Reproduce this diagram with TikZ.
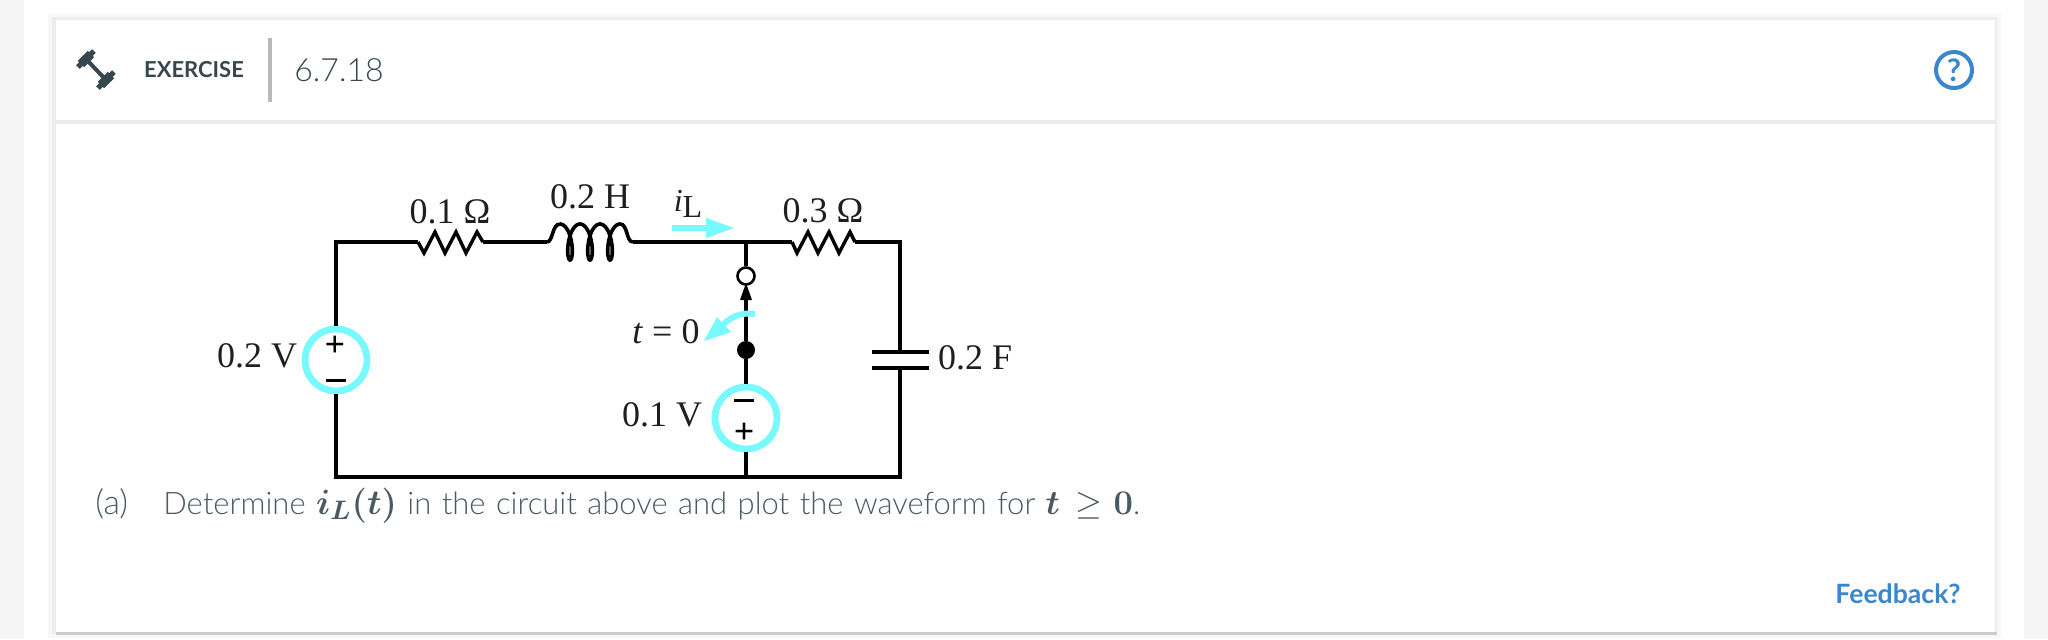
\documentclass[tikz,border=0pt]{standalone}
\usepackage{fontspec}
\usepackage{amsmath}
\setmainfont{Liberation Serif}
\newfontfamily\uilight{Lato Light}
\newfontfamily\uibold{Lato Bold}
\usetikzlibrary{arrows.meta}
\definecolor{uidark}{HTML}{37474F}
\definecolor{uibody}{HTML}{4A5A63}
\definecolor{uiblue}{HTML}{3A87CD}
\definecolor{srccyan}{HTML}{78F9FD}
\tikzset{
  wire/.style={line width=1.7pt,black,line join=miter},
  source/.style={circle,draw=srccyan,line width=3.4pt,fill=white,minimum size=31pt,inner sep=0pt},
  lab/.style={inner sep=0pt,font=\fontsize{18}{20}\selectfont,text=black!88},
  sign/.style={inner sep=0pt,font=\bfseries\fontsize{18}{20}\selectfont},
  terminal/.style={circle,draw=black,line width=1.3pt,fill=white,minimum size=8.5pt,inner sep=0pt},
  closed/.style={circle,fill=black,minimum size=9pt,inner sep=0pt},
  cyanarrow/.style={srccyan,line width=3pt},
  body/.style={inner sep=0pt,anchor=base west,text=uibody,font=\uilight\fontsize{15.5}{18}\selectfont},
}
\begin{document}
\begin{tikzpicture}[x=0.5pt,y=-0.5pt]
\useasboundingbox (0,0) rectangle (2048,639);
\fill[white] (0,0) rectangle (2048,639);
\fill[black!4] (0,0) rectangle (24,639);
\fill[black!4] (2024,0) rectangle (2048,639);
% card
\fill[black!3] (48,14) rectangle (2001,638);
\fill[black!7] (52,17) rectangle (1997,634);
\fill[black!20] (56,632) rectangle (1997,635);
\fill[white] (56,20) rectangle (1995,632);
\fill[black!8] (56,120) rectangle (1995,124);
% header
\begin{scope}[uidark]
\draw[line width=2pt] (86,59) -- (106,80);
\draw[line width=4.5pt] (81,64) -- (91,54);
\draw[line width=4.5pt] (101,85) -- (111,75);
\draw[line width=2.5pt] (78,67) -- (94,51);
\draw[line width=2.5pt] (98,88) -- (114,72);
\end{scope}
\node[inner sep=0pt,text=uidark,font=\uibold\fontsize{11}{14}\selectfont] (ex) at (194,70) {EXERCISE};
\fill[black!27] (268,38) rectangle (272,102);
\node[inner sep=0pt,text=uidark,font=\uilight\fontsize{16}{20}\selectfont] (num) at (339,70) {6.7.18};
\node[circle,draw=uiblue,line width=2pt,minimum size=18pt,inner sep=0pt,text=uiblue,font=\uibold\fontsize{15.5}{16}\selectfont] (help) at (1954,70) {?};
\node[inner sep=0pt,text=uiblue,font=\uibold\fontsize{13.3}{14}\selectfont] (fb) at (1898,594) {Feedback?};
% circuit
\coordinate (tl) at (336,242);
\coordinate (bl) at (336,477);
\coordinate (tr) at (900,242);
\coordinate (br) at (900,477);
\coordinate (jt) at (746,242);
\coordinate (jb) at (746,477);
\coordinate (r1a) at (418,242);
\coordinate (r1b) at (483,242);
\coordinate (la) at (547,242);
\coordinate (lb) at (633,242);
\coordinate (r2a) at (792,242);
\coordinate (r2b) at (855,242);
\coordinate (c1) at (900,352);
\coordinate (c2) at (900,368);
\node[source] (vs1) at (336,360) {};
\node[source] (vs2) at (746,418) {};
\node[terminal] (sw1) at (746,276) {};
\node[closed] (sw2) at (746,350) {};
\draw[wire] (vs1) -- (tl) -- (r1a);
\draw[wire] (vs1) -- (bl) -- (br) -- (c2);
\draw[wire] (c1) -- (tr) -- (r2b);
\draw[wire] (r1a) -- (424,253) -- (435,232) -- (445,253) -- (456,232) -- (466,253) -- (477,232) -- (r1b);
\draw[wire] (r1b) -- (la);
\draw[wire,line width=1.8pt] (la) .. controls (553,242) and (552,224) .. (560,224)
  plot[domain=0:1080,samples=220] ({560+\x/18+6.5*sin(\x)},{242-18*cos(\x)})
  .. controls (628,224) and (626,242) .. (lb);
\draw[wire] (lb) -- (r2a);
\draw[wire] (r2a) -- (797,253) -- (808,232) -- (818,253) -- (829,232) -- (839,253) -- (850,232) -- (r2b);
\draw[wire] (jt) -- (sw1);
\draw[wire] (vs2) -- (sw2);
\draw[wire] (sw2) -- (746,295);
\fill[black] (746,283) -- (752,300) -- (740,300) -- cycle;
\draw[wire] (vs2) -- (jb);
\draw[wire] (872,352) -- (929,352);
\draw[wire] (872,368) -- (929,368);
\node[sign] (p1) at (335,346) {+};
\node[sign] (m1) at (336,380) {\rule{10pt}{1.5pt}};
\node[sign] (m2) at (744,400) {\rule{10pt}{1.5pt}};
\node[sign] (p2) at (744,433) {+};
% cyan arrows
\draw[cyanarrow] (672,228) -- (708,228);
\fill[srccyan] (734,228) -- (706,218) -- (706,238) -- cycle;
\draw[cyanarrow] (755,314) .. controls (742,312) and (730,316) .. (720,328);
\fill[srccyan] (704,341) -- (717,317) -- (731,332) -- cycle;
% labels
\node[lab] (l1) at (450,212) {0.1 Ω};
\node[lab] (l2) at (590,197) {0.2 H};
\node[lab] (l3) at (688,204) {\fontsize{16}{18}\selectfont\textit{i}\raisebox{-0.2em}{L}};
\node[lab] (l4) at (823,211) {0.3 Ω};
\node[lab] (l5) at (975,358) {0.2 F};
\node[lab] (l6) at (662,415) {0.1 V};
\node[lab] (l7) at (257,356) {0.2 V};
\node[lab] (l8) at (666,332) {\textit{t} = 0};
% question
\node[body,font=\uilight\fontsize{17}{18}\selectfont] (qa) at (95,514) {(a)};
\node[body] (q) at (163,514) {\spaceskip=\dimexpr\fontdimen2\font+1pt\relax Determine \scalebox{1.22}{$\boldsymbol{i_L(t)}$} in the circuit above and plot the waveform for \scalebox{1.2}{$\boldsymbol{t}\mskip3mu\geq\mskip1mu\boldsymbol{0}$}.};
\end{tikzpicture}
\end{document}
